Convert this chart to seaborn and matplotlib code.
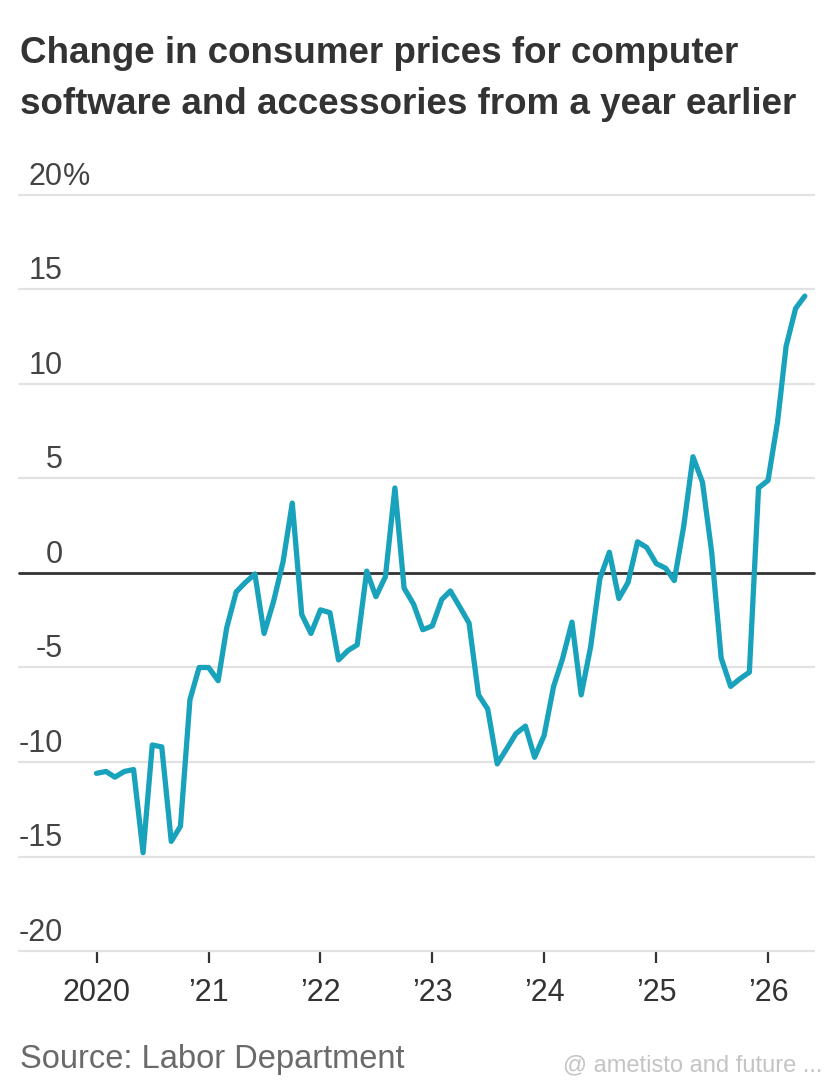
import pandas as pd
import matplotlib
matplotlib.use("Agg")
import matplotlib.pyplot as plt
import matplotlib.transforms as mtransforms
import seaborn as sns

# monthly year-over-year change, Jan 2020 .. May 2026
months = pd.date_range("2020-01-01", "2026-05-01", freq="MS")
change_pct = [
    -10.6, -10.5, -10.8, -10.5, -10.4, -14.8, -9.1, -9.2, -14.2, -13.4, -6.7, -5.0,   # 2020
    -5.0, -5.7, -2.9, -1.0, -0.5, -0.05, -3.2, -1.5, 0.6, 3.7, -2.2, -3.2,             # 2021
    -1.95, -2.1, -4.6, -4.1, -3.8, 0.1, -1.25, -0.2, 4.5, -0.8, -1.65, -3.0,           # 2022
    -2.8, -1.4, -0.95, -1.8, -2.65, -6.45, -7.2, -10.1, -9.3, -8.5, -8.1, -9.75,       # 2023
    -8.6, -6.0, -4.55, -2.6, -6.45, -3.9, -0.3, 1.1, -1.35, -0.5, 1.65, 1.35,          # 2024
    0.5, 0.25, -0.4, 2.5, 6.15, 4.8, 1.1, -4.5, -6.0, -5.6, -5.25, 4.5,                # 2025
    4.9, 8.0, 12.0, 14.0, 14.65,                                                       # 2026
]
y_ticks = [20, 15, 10, 5, 0, -5, -10, -15, -20]
tick_years = [2020, 2021, 2022, 2023, 2024, 2025, 2026]
tick_labels = ["2020", "\u201921", "\u201922", "\u201923", "\u201924", "\u201925", "\u201926"]

df = pd.DataFrame({"month": months, "change": change_pct})

sns.set_theme(style="white")
plt.rcParams["font.family"] = ["Liberation Sans", "DejaVu Sans"]

W, H = 828, 1090
fig = plt.figure(figsize=(W / 100, H / 100), dpi=100)
ax = fig.add_axes([19 / W, 1 - 951 / H, (814 - 19) / W, (951 - 195) / H])

for v in y_ticks:
    if v == 0:
        ax.axhline(v, color="#333333", lw=2.0, zorder=2, clip_on=False)
    else:
        ax.axhline(v, color="#e2e2e2", lw=1.6, zorder=1, clip_on=False)

sns.lineplot(data=df, x="month", y="change", color="#19a2bb", lw=3.8,
             ax=ax, zorder=3, clip_on=False)

# x range: Jan 2020 sits ~253 days right of the left edge
ax.set_xlim(pd.Timestamp("2020-01-01") - pd.Timedelta(days=253),
            pd.Timestamp("2026-01-01") + pd.Timedelta(days=150))
ax.set_ylim(-20, 20)

ax.set_xticks([pd.Timestamp(f"{y}-01-01") for y in tick_years])
ax.set_xticklabels(tick_labels)
ax.tick_params(axis="x", bottom=True, length=8.5, width=1.6, color="#333333",
               pad=11, labelsize=22, labelcolor="#333333")
ax.set_yticks([])
ax.set_xlabel("")
ax.set_ylabel("")
sns.despine(ax=ax, left=True, bottom=True)

# value labels sit above each gridline, right-aligned
lab_x = (63 - 19) / (814 - 19)
lab_tr = mtransforms.offset_copy(ax.get_yaxis_transform(), fig=fig, y=10, units="dots")
for v in y_ticks:
    ax.text(lab_x, v, str(v), ha="right", va="baseline", transform=lab_tr,
            fontsize=22, color="#444444")
ax.text(lab_x, 20, "%", ha="left", va="baseline", transform=lab_tr,
        fontsize=22, color="#444444")

fig.text(20 / W, 1 - 63 / H, "Change in consumer prices for computer",
         fontsize=26.5, fontweight="bold", color="#333333", va="baseline")
fig.text(20 / W, 1 - 114 / H, "software and accessories from a year earlier",
         fontsize=26.5, fontweight="bold", color="#333333", va="baseline")

fig.text(20 / W, 1 - 1068 / H, "Source: Labor Department",
         fontsize=23.5, color="#6a6a6a", va="baseline")
fig.text(822 / W, 1 - 1071 / H, "@ ametisto and future ...",
         fontsize=17, color="#c4c4c4", va="baseline", ha="right")

fig.savefig("out.png", dpi=100)
